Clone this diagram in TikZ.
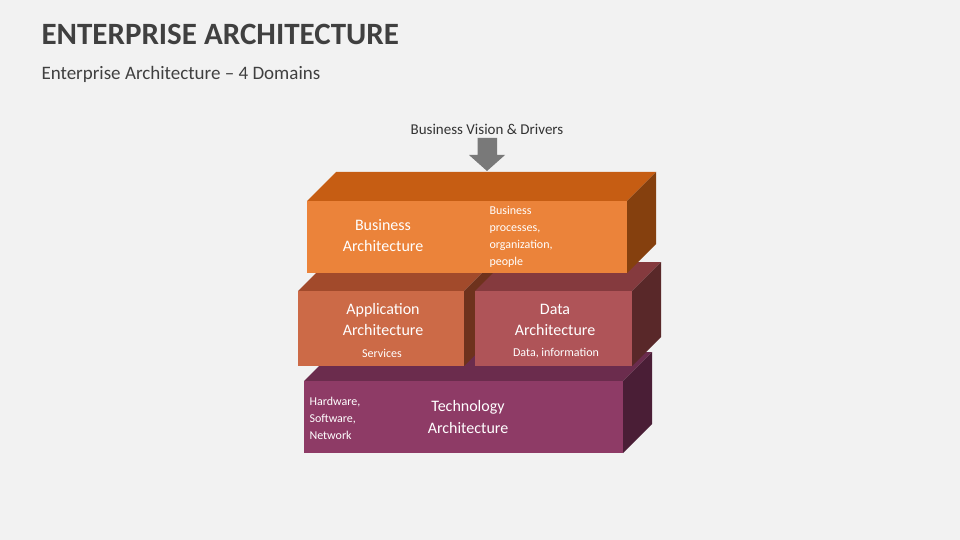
\documentclass[tikz,border=0pt]{standalone}
\usepackage{fontspec}
\setmainfont{Carlito}
\begin{document}
\begin{tikzpicture}[x=1pt,y=-1pt,
  big/.style={text=white,font=\fontsize{16}{21}\selectfont,align=center},
  small/.style={text=white,font=\fontsize{12}{17}\selectfont},
  ]
\useasboundingbox[fill=black!5] (0,0) rectangle (960,540);
\node[anchor=west,text=black!75,font=\bfseries\fontsize{31}{34}\selectfont] (title) at (38,34) {ENTERPRISE ARCHITECTURE};
\node[anchor=west,text=black!75,font=\fontsize{19}{22}\selectfont] (sub) at (38,74) {Enterprise Architecture -- 4 Domains};
\node[text=black!80,font=\fontsize{15}{18}\selectfont] (bv) at (487,129) {Business Vision \& Drivers};
\newcommand{\cuboid}[8]{%
  \fill[#7] (#1,#2) -- (#1+#5,#2-#5) -- (#3+#5,#2-#5) -- (#3,#2) -- cycle;
  \fill[#8] (#3,#2) -- (#3+#5,#2-#5) -- (#3+#5,#4-#5) -- (#3,#4) -- cycle;
  \fill[#6] (#1,#2) rectangle (#3,#4);}
\definecolor{cbf}{HTML}{EB833A}\definecolor{cbt}{HTML}{C65D13}\definecolor{cbs}{HTML}{85400E}
\definecolor{caf}{HTML}{CC6A47}\definecolor{cat}{HTML}{A24A2B}\definecolor{cas}{HTML}{6E321D}
\definecolor{cdf}{HTML}{AF5458}\definecolor{cdt}{HTML}{853A3E}\definecolor{cds}{HTML}{592829}
\definecolor{ctf}{HTML}{8E3B66}\definecolor{ctt}{HTML}{6B2C4D}\definecolor{cts}{HTML}{4A1E36}
\cuboid{304}{381}{623}{453}{29}{ctf}{ctt}{cts}
\cuboid{298}{291}{464}{366}{29}{caf}{cat}{cas}
\cuboid{475}{291}{632}{366}{29}{cdf}{cdt}{cds}
\cuboid{307}{201}{627}{273}{29}{cbf}{cbt}{cbs}
\coordinate (atip) at (487,171);
\fill[gray!95!black] (477.5,138) -- (497,138) -- (497,155) -- (505,155) -- (atip) -- (469,155) -- (477.5,155) -- cycle;
\node[big] (ba) at (383,236) {Business\\Architecture};
\node[small,anchor=north west,align=left] (btx) at (486,203) {Business\\processes,\\organization,\\people};
\node[big] (aa) at (383,320) {Application\\Architecture};
\node[small] (asx) at (382,353) {Services};
\node[big] (da) at (555,320) {Data\\Architecture};
\node[small] (dsx) at (556,353) {Data, information};
\node[big] (ta) at (468,417) {Technology\\Architecture};
\node[small,anchor=north west,align=left] (tl) at (306,394) {Hardware,\\Software,\\Network};
\end{tikzpicture}
\end{document}
